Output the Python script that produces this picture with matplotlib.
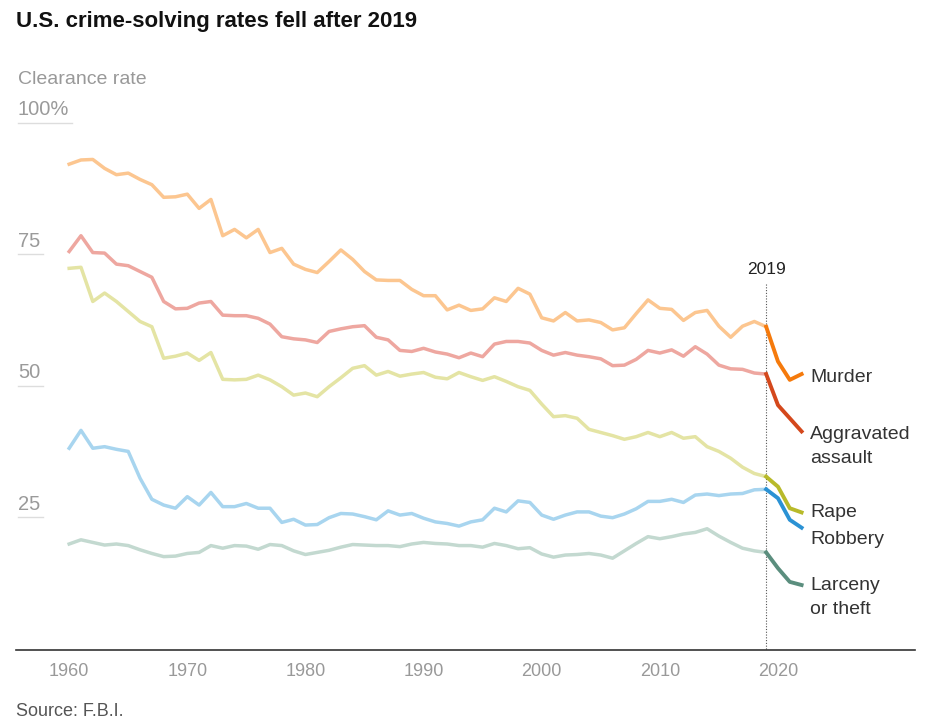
import matplotlib
matplotlib.use("Agg")
import matplotlib.pyplot as plt
import matplotlib.transforms as mtransforms
import numpy as np

plt.rcParams['font.family'] = ['Liberation Sans', 'DejaVu Sans']

years = list(range(1960, 2023))

murder = [92.1, 92.9, 93.0, 91.3, 90.1, 90.4, 89.2, 88.2, 85.8, 85.9,
          86.4, 83.7, 85.4, 78.5, 79.7, 78.1, 79.7, 75.3, 76.1, 73.1,
          72.1, 71.5, 73.6, 75.8, 74.0, 71.7, 70.1, 70.0, 70.0, 68.3,
          67.1, 67.1, 64.4, 65.3, 64.3, 64.6, 66.7, 66.0, 68.5, 67.4,
          62.9, 62.3, 63.9, 62.3, 62.5, 62.0, 60.6, 61.0, 63.7, 66.3,
          64.7, 64.5, 62.4, 63.9, 64.3, 61.3, 59.2, 61.3, 62.2, 61.2,
          54.6, 51.1, 52.2]
assault = [75.5, 78.5, 75.3, 75.2, 73.1, 72.8, 71.7, 70.6, 66.0, 64.6,
           64.7, 65.7, 66.0, 63.4, 63.3, 63.3, 62.8, 61.7, 59.3, 58.9,
           58.7, 58.2, 60.3, 60.8, 61.2, 61.4, 59.2, 58.7, 56.7, 56.5,
           57.1, 56.4, 56.0, 55.3, 56.2, 55.5, 57.9, 58.4, 58.4, 58.1,
           56.7, 55.8, 56.3, 55.8, 55.5, 55.1, 53.8, 53.9, 55.0, 56.7,
           56.2, 56.8, 55.6, 57.4, 56.0, 53.9, 53.2, 53.1, 52.4, 52.2,
           46.3, 43.8, 41.3]
rape = [72.3, 72.5, 66.0, 67.6, 66.0, 64.1, 62.2, 61.2, 55.2, 55.6,
        56.2, 54.8, 56.3, 51.2, 51.1, 51.2, 52.0, 51.1, 49.8, 48.2,
        48.6, 47.9, 49.8, 51.5, 53.3, 53.8, 52.0, 52.7, 51.8, 52.2,
        52.5, 51.6, 51.3, 52.5, 51.7, 51.0, 51.7, 50.8, 49.8, 49.1,
        46.5, 44.1, 44.3, 43.8, 41.7, 41.1, 40.5, 39.8, 40.3, 41.1,
        40.3, 41.1, 40.0, 40.3, 38.4, 37.5, 36.2, 34.5, 33.3, 32.7,
        30.8, 26.7, 25.9]
robbery = [38.1, 41.5, 38.1, 38.4, 37.9, 37.5, 32.4, 28.4, 27.3, 26.7,
           28.9, 27.3, 29.7, 27.0, 27.0, 27.6, 26.7, 26.7, 24.0, 24.6,
           23.5, 23.6, 24.9, 25.7, 25.6, 25.1, 24.5, 26.2, 25.4, 25.7,
           24.8, 24.1, 23.8, 23.3, 24.1, 24.5, 26.7, 26.0, 28.1, 27.8,
           25.4, 24.6, 25.4, 26.0, 26.0, 25.2, 24.9, 25.6, 26.6, 28.0,
           28.0, 28.4, 27.8, 29.2, 29.4, 29.1, 29.4, 29.5, 30.2, 30.3,
           28.6, 24.5, 23.0]
larceny = [19.9, 20.7, 20.2, 19.7, 19.9, 19.6, 18.8, 18.1, 17.5, 17.6,
           18.1, 18.3, 19.6, 19.1, 19.6, 19.5, 18.9, 19.8, 19.6, 18.6,
           17.9, 18.3, 18.7, 19.3, 19.8, 19.7, 19.6, 19.6, 19.4, 19.9,
           20.2, 20.0, 19.9, 19.6, 19.6, 19.3, 20.0, 19.6, 19.0, 19.2,
           18.0, 17.4, 17.8, 17.9, 18.1, 17.8, 17.2, 18.6, 20.0, 21.3,
           20.9, 21.3, 21.8, 22.1, 22.8, 21.4, 20.2, 19.1, 18.6, 18.3,
           15.3, 12.7, 12.1]

series = [
    ("Murder", murder, '#fcc690', '#f57a0c', 51.5),
    ("Aggravated\nassault", assault, '#eea7a0', '#d4481c', 38.4),
    ("Rape", rape, '#e4e4a4', '#b8ba2a', 25.9),
    ("Robbery", robbery, '#a8d5ef', '#2b92d4', 20.8),
    ("Larceny\nor theft", larceny, '#c3d9d0', '#5b8e7e', 9.8),
]

split_year = 2019
y_ticks = [25, 50, 75, 100]
y_tick_labels = ['25', '50', '75', '100%']
x_ticks = [1960, 1970, 1980, 1990, 2000, 2010, 2020]

fig = plt.figure(figsize=(9.28, 7.23), dpi=100)
ax = fig.add_axes([16/928, 1-650/723, 899/928, 550/723])

yrs = np.array(years)
cut = years.index(split_year)
for label, vals, light, dark, ly in series:
    vals = np.array(vals)
    ax.plot(yrs[:cut+1], vals[:cut+1], color=light, lw=2.5, solid_joinstyle='round', zorder=2)
    ax.plot(yrs[cut:], vals[cut:], color=dark, lw=2.8, solid_joinstyle='round', zorder=3)
    ax.text(2022.75, ly, label, fontsize=14, color='#333333', va='center', ha='left',
            linespacing=1.55)

ax.set_xlim(1955.5, 2031.6)
ax.set_ylim(-0.25, 104.3)

# 2019 marker
ax.plot([split_year, split_year], [0, 69.5], color='#555555', lw=0.8, ls=(0, (1, 1.5)), zorder=1)
ax.text(split_year, 70.6, '2019', ha='center', va='bottom', fontsize=12.5, color='#222222')

# y labels with short underline
trans = mtransforms.blended_transform_factory(ax.transAxes, ax.transData)
for v, lab in zip(y_ticks, y_tick_labels):
    ax.annotate(lab, xy=(0.002, v), xycoords=trans, xytext=(0, 2.5),
                textcoords='offset points', ha='left', va='bottom',
                fontsize=14.5, color='#9a9a9a')
    w = 0.060 if lab == '100%' else 0.028
    ax.plot([0.002, 0.002 + w], [v, v], transform=trans, color='#dddddd', lw=1.0)

for spine in ['top', 'right', 'left']:
    ax.spines[spine].set_visible(False)
ax.spines['bottom'].set_color('#333333')
ax.spines['bottom'].set_linewidth(1.2)
ax.set_yticks([])
ax.set_xticks(x_ticks)
ax.set_xticklabels([str(x) for x in x_ticks], fontsize=13, color='#999999')
ax.tick_params(axis='x', length=0, pad=9)

fig.text(16/928, 1-21/723, 'U.S. crime-solving rates fell after 2019', fontsize=16,
         fontweight='bold', color='#111111', va='center', ha='left')
fig.text(18/928, 1-79/723, 'Clearance rate', fontsize=14, color='#999999', va='center', ha='left')
fig.text(16/928, 1-712/723, 'Source: F.B.I.', fontsize=13, color='#555555', va='center', ha='left')

fig.savefig('out.png', dpi=100)
